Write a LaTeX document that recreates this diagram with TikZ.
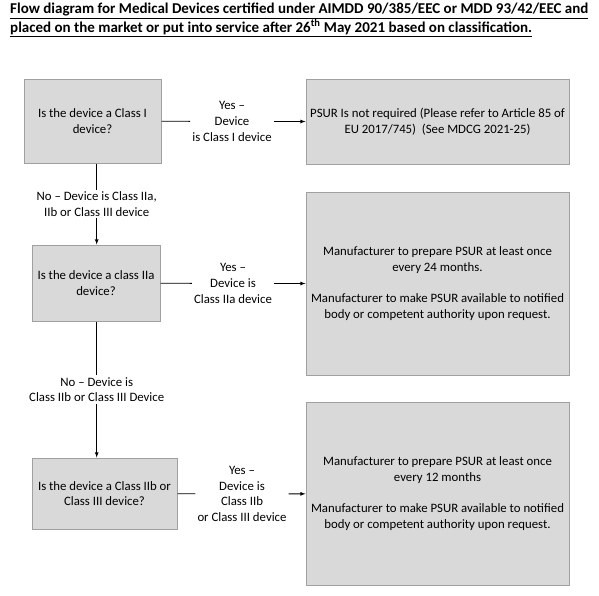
\documentclass[tikz,border=0pt]{standalone}
\usepackage{fontspec}
\setmainfont{Carlito}
\definecolor{boxfill}{HTML}{D9D9D9}
\definecolor{boxline}{HTML}{A0A0A0}
\begin{document}
\begin{tikzpicture}[x=1pt,y=-1pt,>=latex,
    font=\fontsize{12.8}{15.6}\selectfont,
    box/.style={draw=boxline,fill=boxfill,line width=1pt,align=center,inner sep=0pt},
    lab/.style={align=center,inner sep=2pt}]
        \useasboundingbox (0,0) rectangle (599,595);

        % Titolo
        \node[anchor=base west,align=left,inner sep=0pt,font=\bfseries\fontsize{15}{17}\selectfont] (title) at (10,32)
            {\underline{Flow diagram for Medical Devices certified under AIMDD 90/385/EEC or MDD 93/42/EEC and}\\
             \underline{placed on the market or put into service after 26\textsuperscript{th} May 2021 based on classification.}};

        % Domande
        \node[box,minimum width=137,minimum height=84] (q1) at (92.5,121) {Is the device a Class I\\device?};
        \node[box,minimum width=128,minimum height=76] (q2) at (96,283) {Is the device a class IIa\\device?};
        \node[box,minimum width=145,minimum height=71] (q3) at (104.5,493.5) {Is the device a Class IIb or\\Class III device?};

        % Risposte
        \node[box,minimum width=263,minimum height=85] (r1) at (437.5,121.5)
            {PSUR Is not required (Please refer to Article 85 of\\EU 2017/745)\ \ (See MDCG 2021-25)};
        \node[box,minimum width=263,minimum height=183] (r2) at (437.5,283.5)
            {Manufacturer to prepare PSUR at least once\\every 24 months.\\[15.6pt]
             Manufacturer to make PSUR available to notified\\body or competent authority upon request.};
        \node[box,minimum width=263,minimum height=183] (r3) at (437.5,493.5)
            {Manufacturer to prepare PSUR at least once\\every 12 months\\[15.6pt]
             Manufacturer to make PSUR available to notified\\body or competent authority upon request.};

        % Etichette
        \node[lab] (yes1) at (232,121.5) {Yes --\\Device\\is Class I device};
        \node[lab] (yes2) at (233,283.5) {Yes --\\Device is\\Class IIa device};
        \node[lab] (yes3) at (242,494) {Yes --\\Device is\\Class IIb\\or Class III device};
        \node[lab] (no1) at (96.7,204) {No -- Device is Class IIa,\\IIb or Class III device};
        \node[lab] (no2) at (96.7,389.5) {No -- Device is\\Class IIb or Class III Device};

        % Frecce orizzontali
        \draw[thick] (q1) -- (yes1);
        \draw[thick,->] (yes1) -- (r1);
        \draw[thick] (q2) -- (yes2);
        \draw[thick,->] (yes2) -- (r2);
        \draw[thick] (q3) -- (yes3);
        \draw[thick,->] (yes3) -- (r3);

        % Frecce verticali
        \draw[thick] (q1.south -| no1) -- (no1);
        \draw[thick,->] (no1) -- (q2.north -| no1);
        \draw[thick] (q2.south -| no2) -- (no2);
        \draw[thick,->] (no2) -- (q3.north -| no2);
    \end{tikzpicture}
\end{document}
